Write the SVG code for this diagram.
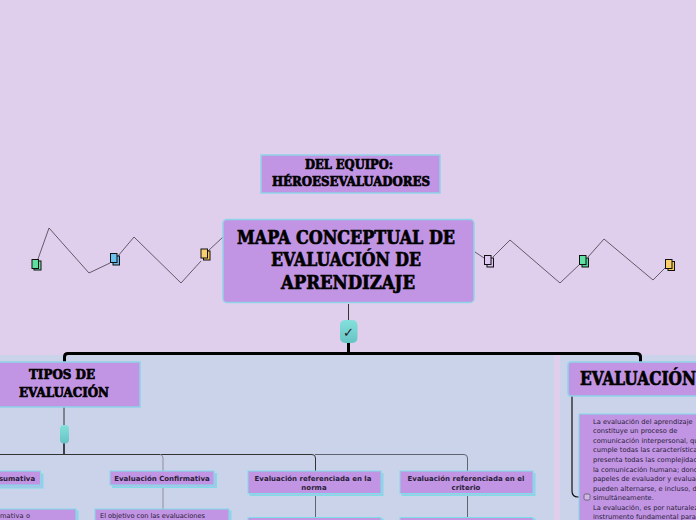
<svg xmlns="http://www.w3.org/2000/svg" width="696" height="520" viewBox="0 0 696 520">
<style>
.n{fill:#c295e4;stroke:#8fd3e8;stroke-width:1.5}
.s{fill:#c295e4;stroke:#7fdde6;stroke-width:1}
.sh{fill:#a9c4ea;stroke:#7fdde6;stroke-width:1}
.t{font-family:"DejaVu Serif","Liberation Serif",serif;font-weight:900;fill:#000;text-anchor:middle;stroke:#000;stroke-width:.7}
.b{font-family:"DejaVu Sans","Liberation Sans",sans-serif;font-weight:700;font-size:7px;fill:#2a1e3a;text-anchor:middle}
.p{font-family:"DejaVu Sans","Liberation Sans",sans-serif;font-size:6.7px;fill:#2a1e3a}
.z{fill:none;stroke:#544c5c;stroke-width:.9}
.k{fill:none;stroke:#000;stroke-width:3}
.g{fill:none;stroke:#5f6570;stroke-width:1}
.ic{stroke:#111;stroke-width:1}
</style>
<defs>
<linearGradient id="pill" x1="0" y1="0" x2="0" y2="1"><stop offset="0" stop-color="#85e0dc"/><stop offset="1" stop-color="#66c4c4"/></linearGradient>
</defs>
<rect width="696" height="520" fill="#e0cfec"/>
<rect x="0" y="355" width="554" height="165" fill="#cbd3eb"/>
<rect x="560" y="355" width="136" height="165" fill="#cbd3eb"/>
<g id="connectors">
<path class="z" d="M223 237L208 251M201 261L181 283L134 237L118 256M110 263L89 273L49 228L38 259"/>
<path class="z" d="M475 252L484 258M493 257L510 240L560 283L580 264M588 257L604 239L653 280L665 268"/>
<path d="M348.500 304V320" stroke="#333" stroke-width="1" fill="none"/>
<path d="M348.500 342V353" stroke="#000" stroke-width="3" fill="none"/>
<path class="k" d="M64.500 362V357Q64.500 353.500 68 353.500H636.500Q640.500 353.500 640.500 357V362"/>
<path d="M64 407V425" stroke="#333" stroke-width="1" fill="none"/>
<path d="M64 443V454" stroke="#111" stroke-width="1.500" fill="none"/>
<path d="M0 454.500H312Q315.500 454.500 315.500 458V471" fill="none" stroke="#333" stroke-width="1"/>
<path class="g" d="M315 454.500H464Q467.500 454.500 467.500 458V471"/>
<path d="M160 454.500Q163 455 163 458V471M163 488V509" fill="none" stroke="#8b8f98" stroke-width="1"/>
<path class="g" d="M315.500 496V517M467.500 496V517"/>
<path d="M572 396V491Q572 497 578 497H584" fill="none" stroke="#111" stroke-width="1.200"/>
</g>
<g id="node-equipo">
<rect class="n" x="261" y="155" width="179" height="38"/>
<text class="t" font-size="12.500" x="349" y="169" textLength="88" lengthAdjust="spacingAndGlyphs">DEL EQUIPO:</text>
<text class="t" font-size="12.500" x="351" y="186" textLength="158" lengthAdjust="spacingAndGlyphs">HÉROESEVALUADORES</text>
</g>
<g id="node-main">
<rect class="n" x="223" y="219.500" width="251" height="83" rx="4"/>
<text class="t" font-size="18" x="346" y="243.500" textLength="218" lengthAdjust="spacingAndGlyphs">MAPA CONCEPTUAL DE</text>
<text class="t" font-size="18" x="346" y="266" textLength="150" lengthAdjust="spacingAndGlyphs">EVALUACIÓN DE</text>
<text class="t" font-size="18" x="348" y="288.500" textLength="134" lengthAdjust="spacingAndGlyphs">APRENDIZAJE</text>
</g>
<g id="node-check">
<rect x="340" y="320" width="17.500" height="23" rx="5" fill="url(#pill)"/>
<text x="348.500" y="336.500" font-family="DejaVu Sans,sans-serif" font-size="13" fill="#222" text-anchor="middle">✓</text>
</g>
<g id="node-tipos">
<rect class="n" x="-10" y="362" width="150" height="45"/>
<text class="t" font-size="13" x="62" y="379" textLength="66" lengthAdjust="spacingAndGlyphs">TIPOS DE</text>
<text class="t" font-size="13" x="64" y="397" textLength="90" lengthAdjust="spacingAndGlyphs">EVALUACIÓN</text>
</g>
<g id="node-pill"><rect x="60" y="425" width="9" height="18.500" rx="4" fill="url(#pill)"/></g>
<g id="node-evaluacion">
<rect class="n" x="568" y="362" width="150" height="34" rx="3"/>
<text class="t" font-size="18" x="580" y="385" style="text-anchor:start" textLength="116" lengthAdjust="spacingAndGlyphs">EVALUACIÓN</text>
</g>
<g id="node-sumativa">
<rect class="sh" x="-10" y="474" width="53" height="14"/>
<rect class="s" x="-10" y="471" width="50.500" height="14"/>
<text class="b" x="17" y="481">sumativa</text>
</g>
<g id="node-confirmativa">
<rect class="sh" x="112.500" y="473.500" width="104" height="14"/>
<rect class="s" x="110" y="471" width="104" height="14"/>
<text class="b" x="162" y="481">Evaluación Confirmativa</text>
</g>
<g id="node-norma">
<rect class="sh" x="250" y="473.500" width="133" height="22"/>
<rect class="s" x="248" y="471" width="133" height="22.500"/>
<text class="b" x="313" y="481">Evaluación referenciada en la</text>
<text class="b" x="314" y="490">norma</text>
</g>
<g id="node-criterio">
<rect class="sh" x="402" y="473.500" width="133" height="22"/>
<rect class="s" x="400" y="471" width="133" height="22.500"/>
<text class="b" x="466" y="481">Evaluación referenciada en el</text>
<text class="b" x="466" y="490">criterio</text>
</g>
<g id="node-sumativa-texto">
<rect class="sh" x="-10" y="511" width="88" height="12"/>
<rect class="s" x="-10" y="509" width="86" height="14"/>
<text class="p" x="0" y="518" textLength="30">mativa o</text>
</g>
<g id="node-confirmativa-texto">
<rect class="sh" x="97" y="511" width="134" height="12"/>
<rect class="s" x="95" y="509" width="134" height="14"/>
<text class="p" x="100" y="518" textLength="105">El objetivo con las evaluaciones</text>
</g>
<g id="node-norma-texto">
<rect class="sh" x="250" y="519" width="133" height="4"/>
<rect class="s" x="248" y="517.500" width="133" height="6"/>
</g>
<g id="node-criterio-texto">
<rect class="sh" x="402" y="519" width="133" height="4"/>
<rect class="s" x="400" y="517.500" width="133" height="6"/>
</g>
<g id="node-evaluacion-texto">
<rect class="s" x="579" y="414" width="125" height="110"/>
<text class="p" x="593" y="424">La evaluación del aprendizaje</text>
<text class="p" x="593" y="433">constituye un proceso de</text>
<text class="p" x="593" y="443">comunicación interpersonal, que</text>
<text class="p" x="593" y="452">cumple todas las características y</text>
<text class="p" x="593" y="462">presenta todas las complejidades de</text>
<text class="p" x="593" y="471.500">la comunicación humana; donde los</text>
<text class="p" x="593" y="481">papeles de evaluador y evaluado</text>
<text class="p" x="593" y="490.500">pueden alternarse, e incluso, darse</text>
<text class="p" x="593" y="500">simultáneamente.</text>
<text class="p" x="593" y="509.500">La evaluación, es por naturaleza, un</text>
<text class="p" x="593" y="519">instrumento fundamental para</text>
<rect x="584" y="494" width="6" height="6" rx="1.500" fill="#d2b5ea" stroke="#555" stroke-width=".8"/>
</g>
<g id="icon-1"><rect class="ic" x="34" y="261" width="7" height="9" fill="#5fe0a0"/><rect class="ic" x="32" y="259.500" width="6.500" height="9" fill="#5fe0a0" stroke="#555"/></g>
<g id="icon-2"><rect class="ic" x="113" y="256" width="6.500" height="9" fill="#62b8e8"/><rect class="ic" x="110.500" y="253.500" width="6.500" height="9" fill="#6cc0ee"/></g>
<g id="icon-3"><rect class="ic" x="203.500" y="251" width="6.500" height="9" fill="#f5c860"/><rect class="ic" x="201" y="249" width="6.500" height="9" fill="#f8cf6c" stroke="#555"/></g>
<g id="icon-4"><rect class="ic" x="487" y="258" width="6.500" height="9" fill="#d8bff0"/><rect class="ic" x="484.500" y="255.500" width="6.500" height="9" fill="#e0c8f4"/></g>
<g id="icon-5"><rect class="ic" x="582" y="258" width="6.500" height="9" fill="#4fcf95"/><rect class="ic" x="579.500" y="255.500" width="6.500" height="9" fill="#5fe0a0"/></g>
<g id="icon-6"><rect class="ic" x="668" y="261.500" width="6.500" height="9" fill="#f5c860"/><rect class="ic" x="665.500" y="259.500" width="6.500" height="9" fill="#f8cf6c" stroke="#555"/></g>
</svg>
